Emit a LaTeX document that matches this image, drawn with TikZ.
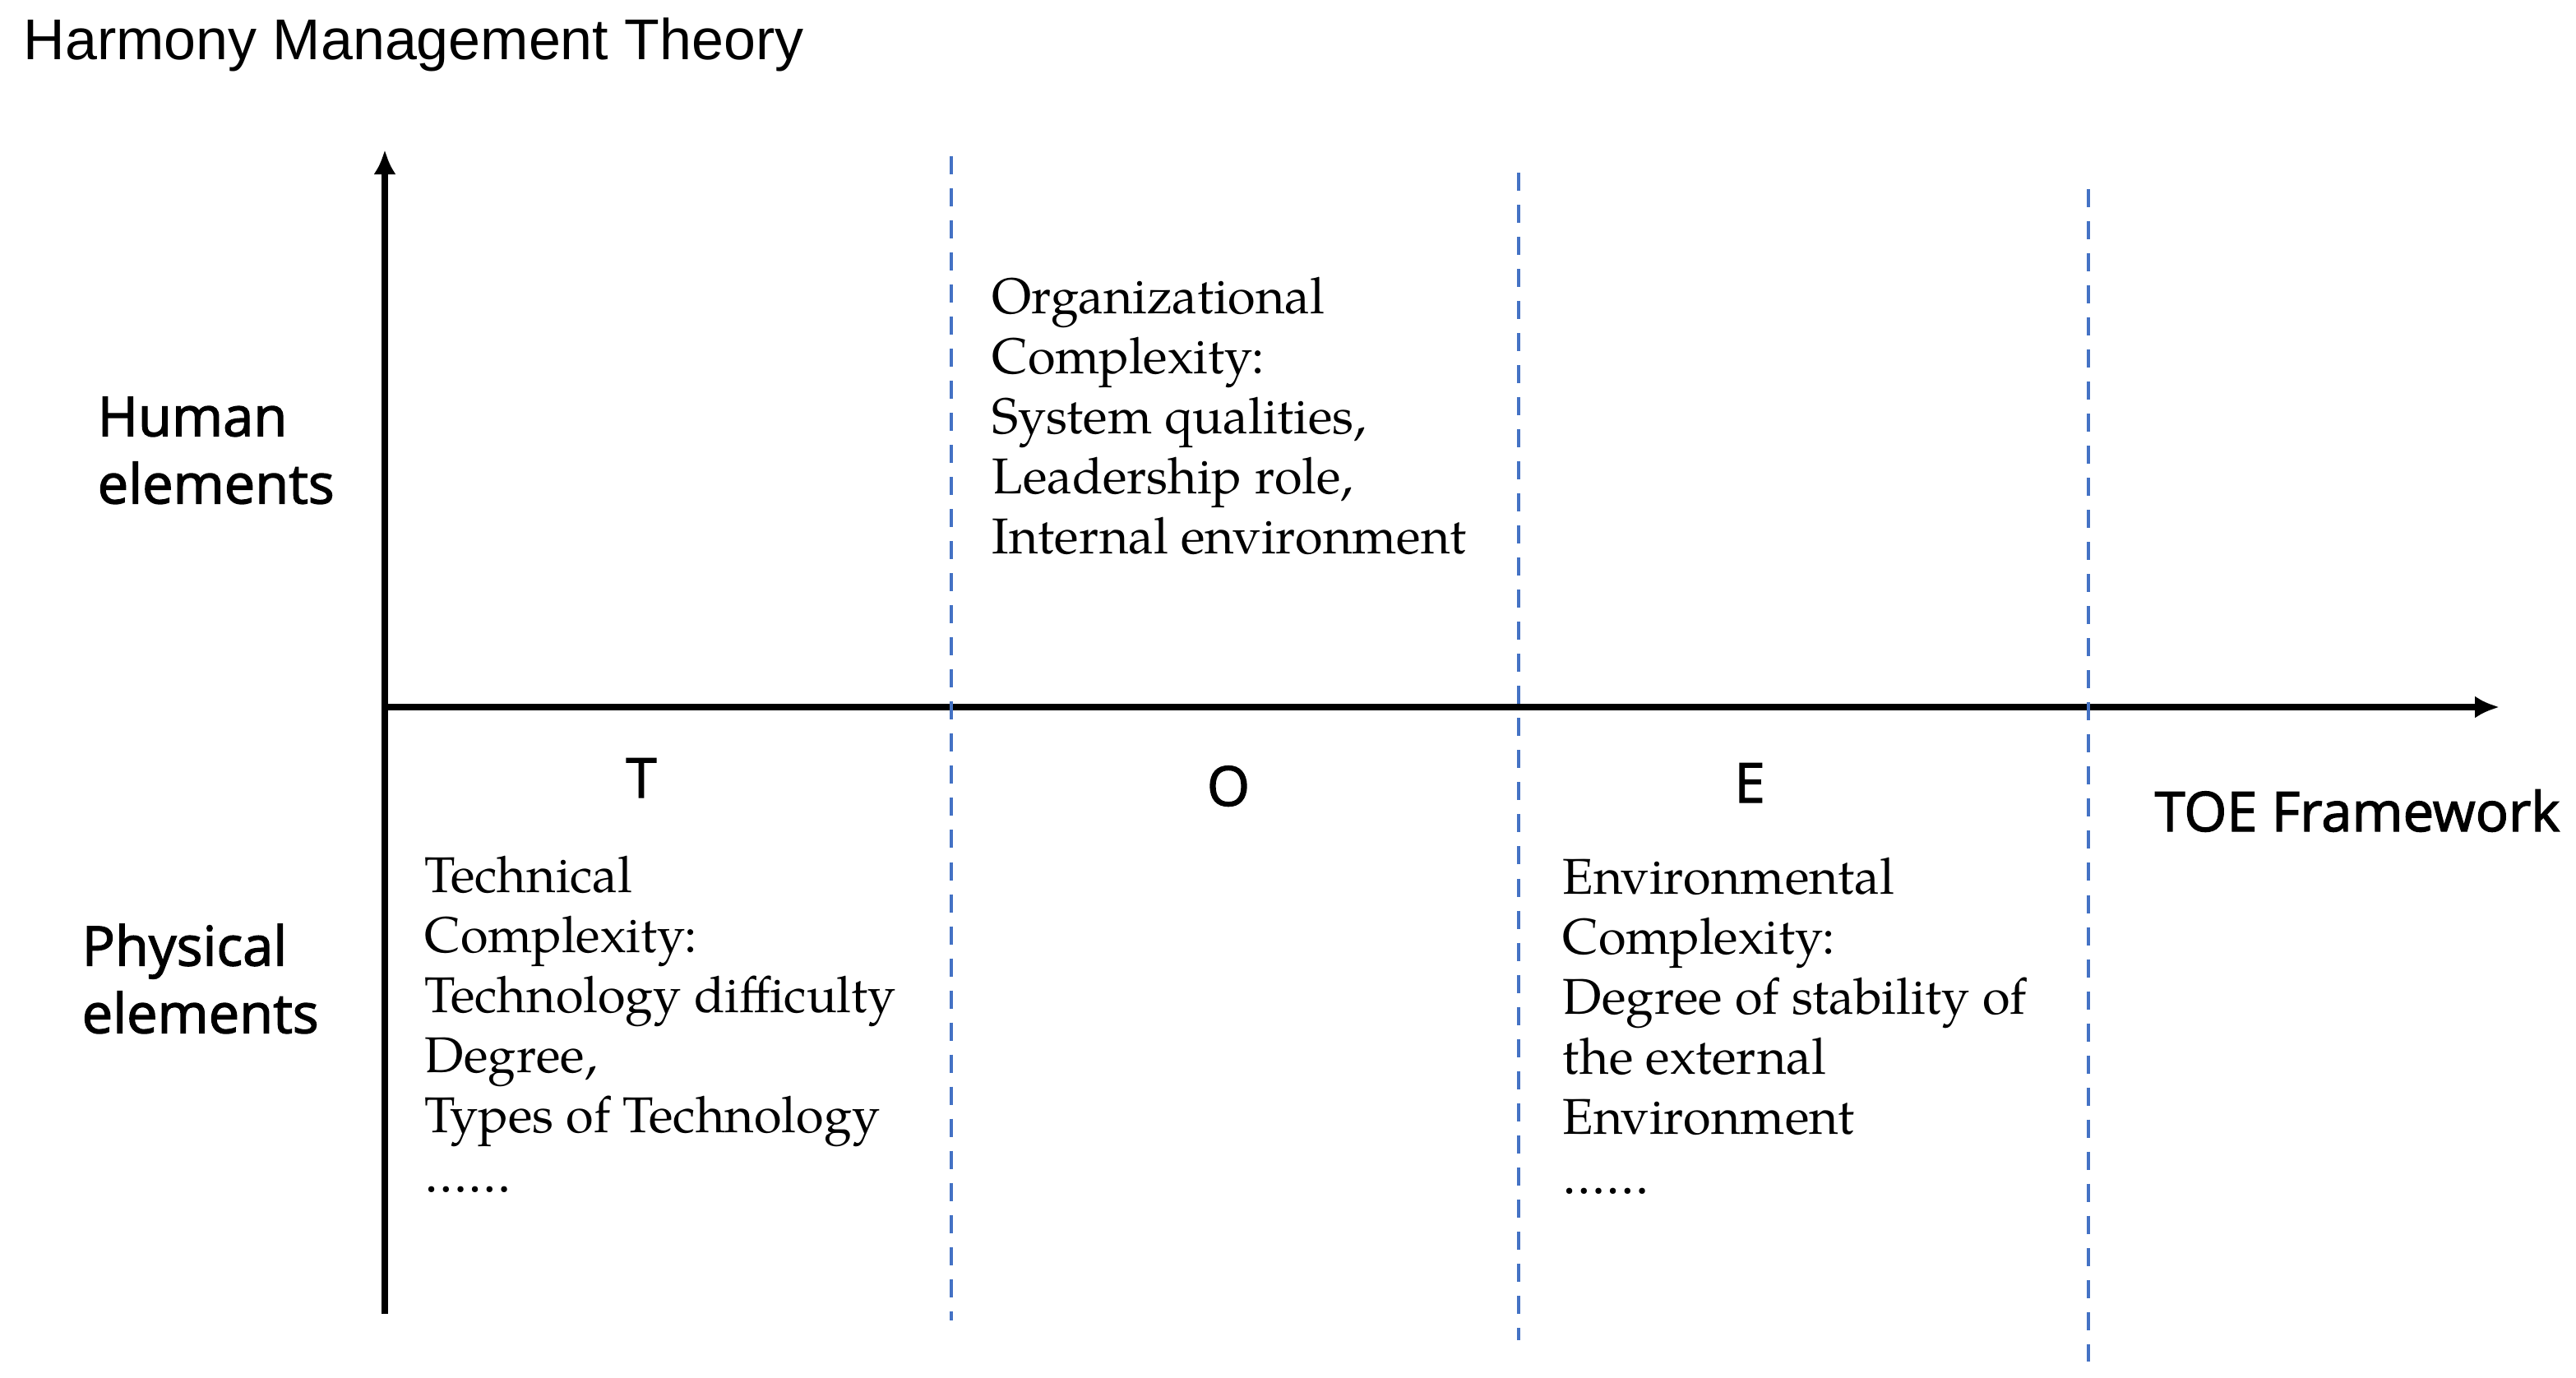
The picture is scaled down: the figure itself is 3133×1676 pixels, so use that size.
\documentclass[tikz,border=0pt]{standalone}
\usepackage{fontspec}
\setmainfont{texgyrepagella}[Extension=.otf, UprightFont=*-regular]
\newfontfamily\titlefont{Liberation Sans}
\newfontfamily\labelfont{Open Sans}[FakeBold=2]
\usetikzlibrary{arrows,arrows.meta}
\definecolor{divblue}{HTML}{4472C4}
\tikzstyle{axis}=[draw, line width=2pt, -{Latex[length=0.3cm,width=0.27cm]}]
\tikzstyle{divider}=[draw, color=divblue, line width=1.2pt,
  dash pattern=on 0.22cm off 0.17cm]
\tikzstyle{side}=[align=left, inner sep=0pt, anchor=north west,
  font=\labelfont\fontsize{19}{23.3}\selectfont]
\tikzstyle{letter}=[inner sep=0pt, anchor=base,
  font=\labelfont\fontsize{19}{23.3}\selectfont]
\tikzstyle{factor}=[align=left, inner sep=0pt, anchor=north west,
  font=\fontsize{17.4}{20.8}\selectfont]

\begin{document}
\begin{tikzpicture}[x=0.01cm,y=-0.01cm]
  \useasboundingbox (0,0) rectangle (3133,1676);

  \path (28,73) node (title) [anchor=base west, inner sep=0pt,
    font=\titlefont\fontsize{19.9}{24}\selectfont] {Harmony Management Theory};

  % axes
  \coordinate (origin) at (468,860);
  \coordinate (ytop) at (468,182);
  \coordinate (ybot) at (468,1598);
  \coordinate (xend) at (3040,860);
  \path [axis] (ybot) -- (ytop);
  \path [axis] (origin) -- (xend);

  % dashed dividers
  \coordinate (d1t) at (1157,190);  \coordinate (d1b) at (1157,1606);
  \coordinate (d2t) at (1847,210);  \coordinate (d2b) at (1847,1630);
  \coordinate (d3t) at (2540,230);  \coordinate (d3b) at (2540,1656);
  \path [divider] (d1t) -- (d1b);
  \path [divider] (d2t) -- (d2b);
  \path [divider] (d3t) -- (d3b);

  \path (118,482) node (human) [side] {Human\\elements};
  \path (99,1123) node (physical) [side] {Physical\\elements};

  \path (780,970) node (t) [letter] {T};
  \path (1494,980) node (o) [letter] {O};
  \path (2128,976) node (e) [letter] {E};
  \path (2620,1011) node (toe) [letter, anchor=base west] {TOE Framework};

  \path (1206,336) node (orgc) [factor] {Organizational\\Complexity:\\System qualities,\\Leadership role,\\Internal environment};
  \path (516,1040) node (techc) [factor] {Technical\\Complexity:\\Technology difficulty\\Degree,\\Types of Technology\\……};
  \path (1900,1042) node (envc) [factor] {Environmental\\Complexity:\\Degree of stability of\\the external\\Environment\\……};
\end{tikzpicture}
\end{document}
